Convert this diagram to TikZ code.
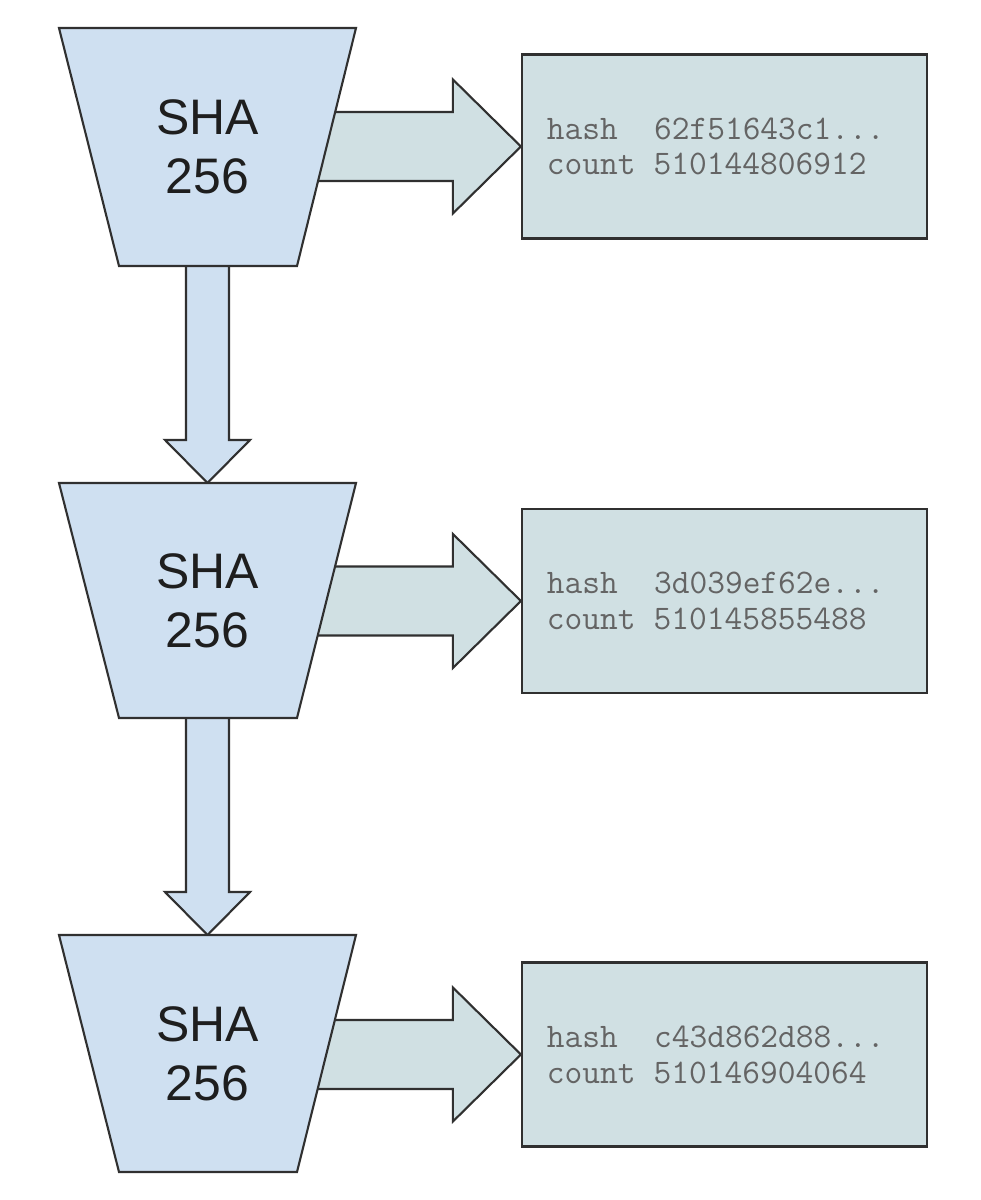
\documentclass[tikz,border=0pt]{standalone}
\usepackage{fontspec}
\setmainfont{Liberation Sans}
\usetikzlibrary{calc}
\definecolor{shablue}{RGB}{207,224,241}
\definecolor{outgray}{RGB}{208,224,227}
\definecolor{edgegray}{RGB}{48,48,48}
\definecolor{codegray}{RGB}{100,100,100}
\definecolor{labelblack}{RGB}{30,30,30}
\pgfdeclarelayer{bg}
\pgfsetlayers{bg,main}
\newcommand\codesp{\hspace*{0.525em}}
\tikzset{
  shashape/.style={draw=edgegray, fill=shablue, line width=1.5pt, line join=miter},
  shalabel/.style={font=\fontsize{35.5}{42}\selectfont, align=center, text=labelblack, inner sep=0pt},
  outbox/.style={draw=edgegray, fill=outgray, line width=1.5pt,
    minimum width=10.125cm, minimum height=4.6cm, text width=8.875cm,
    inner xsep=0.625cm, inner ysep=0pt, align=left,
    font=\ttfamily\fontsize{24.5}{25.5}\selectfont, text=codegray},
  blockarrow/.style={draw=edgegray, line width=1.5pt, line join=miter},
}
\newcommand\rightblockarrow[1]{%
  \draw[blockarrow, fill=outgray]
    ($(#1.west)+(-222,-34.5)$) -- ($(#1.west)+(-68,-34.5)$) -- ($(#1.west)+(-68,-67)$)
    -- (#1.west)
    -- ($(#1.west)+(-68,67)$) -- ($(#1.west)+(-68,34.5)$) -- ($(#1.west)+(-222,34.5)$);
}
\newcommand\downblockarrow[2]{%
  \draw[blockarrow, fill=shablue]
    ($(#1)+(-21.5,-10)$) -- ($(#2)+(-21.5,-43)$) -- ($(#2)+(-42.5,-43)$)
    -- (#2)
    -- ($(#2)+(42.5,-43)$) -- ($(#2)+(21.5,-43)$) -- ($(#1)+(21.5,-10)$);
}
\begin{document}
\begin{tikzpicture}[x=0.025cm,y=-0.025cm]
\useasboundingbox (0,0) rectangle (980,1200);

% SHA 256 stages
\draw[shashape] (59,28) -- (356,28) -- (297,266) -- (119,266) -- cycle;
\node[shalabel] (sha1) at (207.5,147) {SHA\\256};
\coordinate (t1top) at (207.5,28);
\coordinate (t1bot) at (207.5,266);

\draw[shashape] (59,483) -- (356,483) -- (297,718) -- (119,718) -- cycle;
\node[shalabel] (sha2) at (207.5,600.5) {SHA\\256};
\coordinate (t2top) at (207.5,483);
\coordinate (t2bot) at (207.5,718);

\draw[shashape] (59,935) -- (356,935) -- (297,1172) -- (119,1172) -- cycle;
\node[shalabel] (sha3) at (207.5,1053.5) {SHA\\256};
\coordinate (t3top) at (207.5,935);

% output boxes
\node[outbox] (out1) at (724.5,146.5) {hash\codesp\codesp 62f51643c1...\\count\codesp 510144806912};
\node[outbox] (out2) at (724.5,601) {hash\codesp\codesp 3d039ef62e...\\count\codesp 510145855488};
\node[outbox] (out3) at (724.5,1054.5) {hash\codesp\codesp c43d862d88...\\count\codesp 510146904064};

% block arrows
\begin{pgfonlayer}{bg}
  \rightblockarrow{out1}
  \rightblockarrow{out2}
  \rightblockarrow{out3}
  \downblockarrow{t1bot}{t2top}
  \downblockarrow{t2bot}{t3top}
\end{pgfonlayer}
\end{tikzpicture}
\end{document}
